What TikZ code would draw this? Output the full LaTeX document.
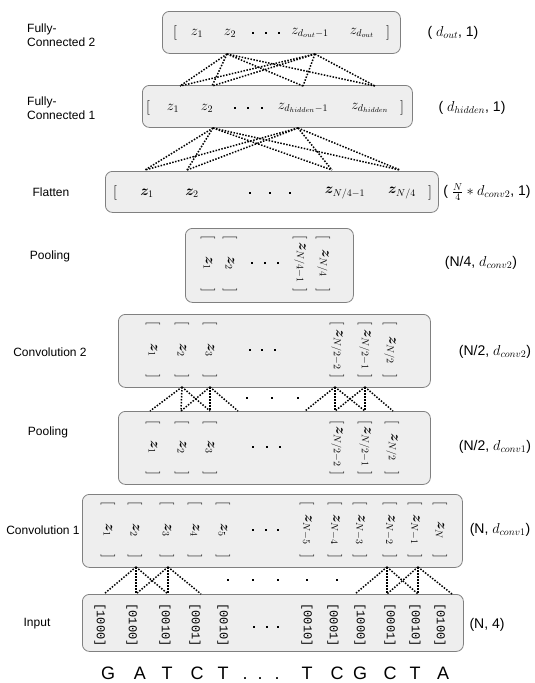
\documentclass[tikz,border=0pt]{standalone}
\usepackage{fontspec}
\setmainfont{Liberation Sans}
\newfontfamily\monofam{Liberation Mono}
\usepackage{amsmath}
\usepackage{bm}
\definecolor{boxfill}{HTML}{EEEEEE}
\definecolor{boxline}{HTML}{808080}
\tikzset{
  layerbox/.style={draw=boxline, fill=boxfill, rounded corners=7pt, line width=0.8pt, anchor=north west, inner sep=0pt},
  conn/.style={line width=1.5pt, dash pattern=on 1.5pt off 1.5pt, black},
  sqdot/.style={fill=black, rectangle, minimum size=2.8pt, inner sep=0pt},
  lbl/.style={font=\fontsize{12}{14}\selectfont, align=left, inner sep=0pt},
  dimlbl/.style={font=\fontsize{14}{16}\selectfont, inner sep=0pt},
  ent/.style={font=\fontsize{14}{16}\selectfont, inner sep=0pt},
  rot/.style={ent, rotate=-90},
  inp/.style={font=\monofam\fontsize{12}{14}\selectfont, rotate=-90, inner sep=0pt},
  base/.style={font=\fontsize{18}{20}\selectfont, anchor=base, inner sep=0pt},
}
\begin{document}
\begin{tikzpicture}[x=1pt, y=-1pt]
\useasboundingbox (0,0) rectangle (535,683);

% ---------- layer boxes ----------
\node[layerbox, minimum width=238pt, minimum height=42pt] (fc2) at (162,11) {};
\node[layerbox, minimum width=270pt, minimum height=42pt] (fc1) at (142,85) {};
\node[layerbox, minimum width=333pt, minimum height=41pt] (flat) at (105,171) {};
\node[layerbox, minimum width=168pt, minimum height=74pt] (poolb) at (185,228) {};
\node[layerbox, minimum width=312pt, minimum height=73pt] (conv2) at (118,314) {};
\node[layerbox, minimum width=312pt, minimum height=73pt] (poola) at (118,411) {};
\node[layerbox, minimum width=380pt, minimum height=73pt] (conv1) at (82,494) {};
\node[layerbox, minimum width=381pt, minimum height=57pt] (inp) at (82,594) {};

% ---------- left labels ----------
\node[lbl, anchor=west] (lfc2) at (27,35) {Fully-\\Connected 2};
\node[lbl, anchor=west] (lfc1) at (27,108) {Fully-\\Connected 1};
\node[lbl] (lflat) at (51,192) {Flatten};
\node[lbl] (lpoolb) at (50,256) {Pooling};
\node[lbl] (lconv2) at (50,352) {Convolution 2};
\node[lbl] (lpoola) at (48,432) {Pooling};
\node[lbl] (lconv1) at (43,530) {Convolution 1};
\node[lbl] (linp) at (37,624) {Input};

% ---------- right labels ----------
\node[dimlbl] (dfc2) at (453,33) {( $d_{out}$, 1)};
\node[dimlbl] (dfc1) at (472,108) {( $d_{hidden}$, 1)};
\node[dimlbl] (dflat) at (487,192) {( $\frac{N}{4}*d_{conv2}$, 1)};
\node[dimlbl] (dpoolb) at (481,263) {(N/4, $d_{conv2}$)};
\node[dimlbl] (dconv2) at (495,352) {(N/2, $d_{conv2}$)};
\node[dimlbl] (dpoola) at (495,447) {(N/2, $d_{conv1}$)};
\node[dimlbl] (dconv1) at (500,530) {(N, $d_{conv1}$)};
\node[dimlbl] (dinp) at (487,625) {(N, 4)};

% ---------- FC2 row ----------
\node[ent] (f2l) at (175,33) {$[$};
\node[ent] (f2z1) at (197,33) {$z_1$};
\node[ent] (f2z2) at (230,33) {$z_2$};
\node[sqdot] (f2d1) at (253,33) {};
\node[sqdot] (f2d2) at (266,33) {};
\node[sqdot] (f2d3) at (279,33) {};
\node[ent] (f2z3) at (310,33) {$z_{d_{out}-1}$};
\node[ent] (f2z4) at (362,33) {$z_{d_{out}}$};
\node[ent] (f2r) at (388,33) {$]$};

% ---------- FC1 row ----------
\node[ent] (f1l) at (148,108) {$[$};
\node[ent] (f1z1) at (173,108) {$z_1$};
\node[ent] (f1z2) at (207,108) {$z_2$};
\node[sqdot] (f1d1) at (235,108) {};
\node[sqdot] (f1d2) at (248,108) {};
\node[sqdot] (f1d3) at (262,108) {};
\node[ent] (f1z3) at (303,108) {$z_{d_{hidden}-1}$};
\node[ent] (f1z4) at (370,108) {$z_{d_{hidden}}$};
\node[ent] (f1r) at (402,108) {$]$};

% ---------- Flatten row ----------
\node[ent] (fll) at (115,193) {$[$};
\node[ent] (flz1) at (147,193) {$\bm{z}_1$};
\node[ent] (flz2) at (192,193) {$\bm{z}_2$};
\node[sqdot] (fld1) at (250,193) {};
\node[sqdot] (fld2) at (270,193) {};
\node[sqdot] (fld3) at (290,193) {};
\node[ent] (flz3) at (345,193) {$\bm{z}_{N/4-1}$};
\node[ent] (flz4) at (402,193) {$\bm{z}_{N/4}$};
\node[ent] (flr) at (430,193) {$]$};

% ---------- Pooling (top) ----------
\foreach \x/\s [count=\i] in {208/1,230/2,300/{N/4-1},323/{N/4}} {
  \node[rot] (pbt\i) at (\x,237) {$[$};
  \node[rot] (pbz\i) at (\x,263) {$\bm{z}_{\s}$};
  \node[rot] (pbb\i) at (\x,290) {$]$};
}
\foreach \x [count=\i] in {252,265,278} \node[sqdot] (pbd\i) at (\x,263) {};

% ---------- Convolution 2 ----------
\foreach \x/\s [count=\i] in {153/1,182/2,210/3,337/{N/2-2},365/{N/2-1},390/{N/2}} {
  \node[rot] (c2t\i) at (\x,323) {$[$};
  \node[rot] (c2z\i) at (\x,350) {$\bm{z}_{\s}$};
  \node[rot] (c2b\i) at (\x,376) {$]$};
}
\foreach \x [count=\i] in {250,262,275} \node[sqdot] (c2d\i) at (\x,350) {};

% ---------- Pooling (bottom) ----------
\foreach \x/\s [count=\i] in {153/1,182/2,210/3,337/{N/2-2},365/{N/2-1},392/{N/2}} {
  \node[rot] (pat\i) at (\x,422) {$[$};
  \node[rot] (paz\i) at (\x,447) {$\bm{z}_{\s}$};
  \node[rot] (pab\i) at (\x,473) {$]$};
}
\foreach \x [count=\i] in {253,267,280} \node[sqdot] (pad\i) at (\x,447) {};

% ---------- Convolution 1 ----------
\foreach \x/\s [count=\i] in {108/1,135/2,167/3,195/4,223/5,307/{N-5},335/{N-4},360/{N-3},390/{N-2},415/{N-1},440/N} {
  \node[rot] (c1t\i) at (\x,503) {$[$};
  \node[rot] (c1z\i) at (\x,530) {$\bm{z}_{\s}$};
  \node[rot] (c1b\i) at (\x,556) {$]$};
}
\foreach \x [count=\i] in {253,266,278} \node[sqdot] (c1d\i) at (\x,530) {};

% ---------- Input ----------
\foreach \x/\s [count=\i] in {100/[1000],132/[0100],165/[0010],195/[0001],223/[0010],307/[0010],333/[0001],360/[1000],390/[0001],415/[0010],440/[0100]} {
  \node[inp] (in\i) at (\x,625) {\s};
}
\foreach \x [count=\i] in {254,267,278} \node[sqdot] (ind\i) at (\x,627) {};

% ---------- sequence letters ----------
\foreach \x/\s [count=\i] in {108/G,140/A,167/T,197/C,223/T,245/.,260/.,277/.,307/T,337/C,360/G,390/C,415/T,443/A} {
  \node[base] (seq\i) at (\x,679) {\s};
}

% ---------- connector end points ----------
\coordinate (a1) at (227,54);  \coordinate (a2) at (315,54);
\coordinate (b1) at (180,86);  \coordinate (b2) at (212,86);
\coordinate (b3) at (303,86);  \coordinate (b4) at (375,86);
\coordinate (g1) at (213,128); \coordinate (g2) at (298,128);
\coordinate (h1) at (145,170); \coordinate (h2) at (187,170);
\coordinate (h3) at (332,170); \coordinate (h4) at (400,170);

\coordinate (k1) at (182,387); \coordinate (k2) at (210,387);
\coordinate (k3) at (335,387); \coordinate (k4) at (365,387);
\foreach \x [count=\i] in {150,181,210,238,305,335,365,393} \coordinate (m\i) at (\x,411);

\coordinate (q1) at (136,567); \coordinate (q2) at (168,567);
\coordinate (q3) at (387,567); \coordinate (q4) at (418,567);
\foreach \x [count=\i] in {104,136,168,201,355,387,418,452} \coordinate (r\i) at (\x,594);

% FC2 <- FC1
\foreach \t in {a1,a2} \foreach \u in {b1,b2,b3,b4} \draw[conn] (\t) -- (\u);
% FC1 <- Flatten
\foreach \t in {g1,g2} \foreach \u in {h1,h2,h3,h4} \draw[conn] (\t) -- (\u);

% Conv2 <- Pooling
\foreach \u in {m1,m2,m3} \draw[conn] (k1) -- (\u);
\foreach \u in {m2,m3,m4} \draw[conn] (k2) -- (\u);
\foreach \u in {m5,m6,m7} \draw[conn] (k3) -- (\u);
\foreach \u in {m6,m7,m8} \draw[conn] (k4) -- (\u);
\foreach \x [count=\i] in {247,272,298} \node[sqdot] (kd\i) at (\x,398) {};

% Conv1 <- Input
\foreach \u in {r1,r2,r3} \draw[conn] (q1) -- (\u);
\foreach \u in {r2,r3,r4} \draw[conn] (q2) -- (\u);
\foreach \u in {r5,r6,r7} \draw[conn] (q3) -- (\u);
\foreach \u in {r6,r7,r8} \draw[conn] (q4) -- (\u);
\foreach \x [count=\i] in {228,253,278,307,337} \node[sqdot] (qd\i) at (\x,580) {};
\end{tikzpicture}
\end{document}
